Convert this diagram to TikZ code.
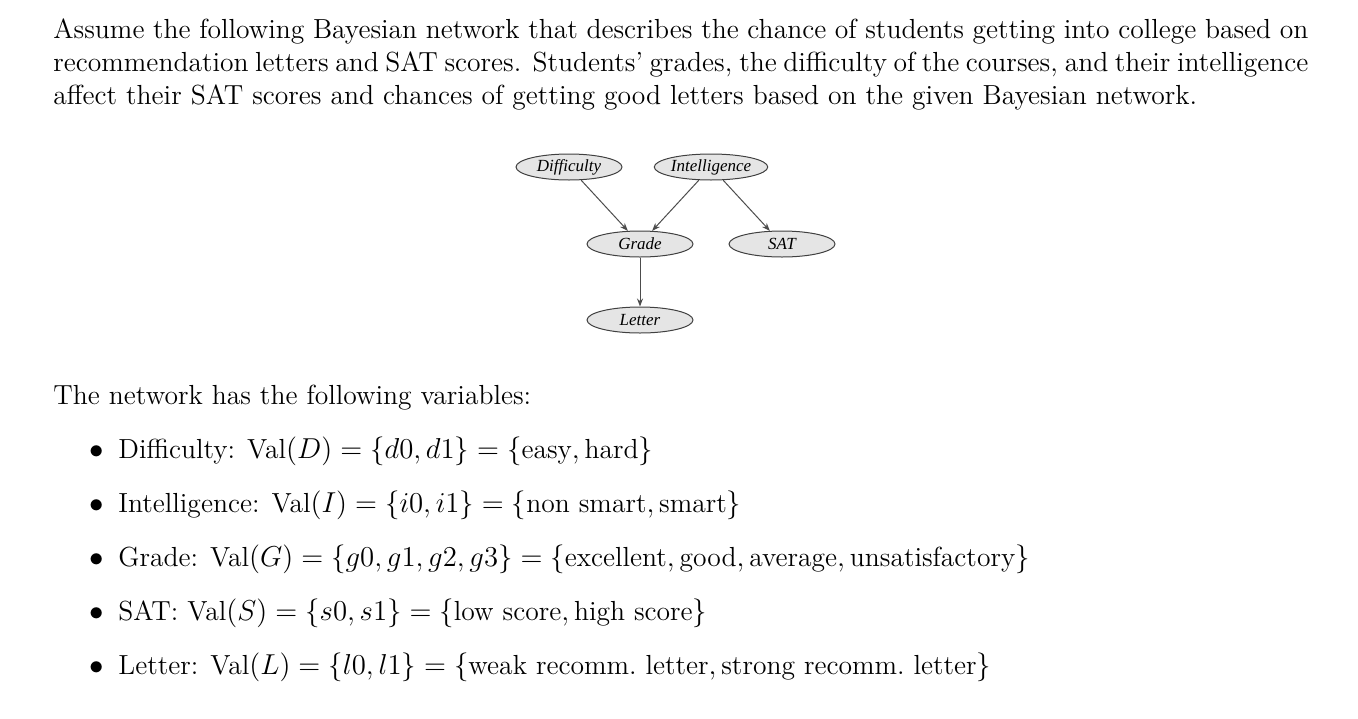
\documentclass[tikz,border=0pt]{standalone}
\usepackage{fontspec}
\newfontfamily\tms{Liberation Serif}
\usetikzlibrary{shapes.geometric,arrows.meta}
\begin{document}
\begin{tikzpicture}[x=0.5pt,y=-0.5pt,
  bn/.style={ellipse,draw=black!75,fill=black!10,line width=0.5pt,minimum width=53pt,minimum height=13pt,inner sep=0pt,font=\tms\itshape\fontsize{8.5}{10}\selectfont},
  ar/.style={-{Stealth[length=4pt,width=3pt]},draw=black!70,line width=0.5pt},
  txt/.style={anchor=base west,inner sep=0pt,font=\fontsize{13.8}{16.5}\selectfont}]
\useasboundingbox (0,0) rectangle (1358,718);
\node[txt] (p1) at (53,38) {\makebox[627.5pt][s]{Assume the following Bayesian network that describes the chance of students getting into college based on}};
\node[txt] (p2) at (53,71) {\makebox[627.5pt][s]{recommendation letters and SAT scores. Students' grades, the difficulty of the courses, and their intelligence}};
\node[txt] (p3) at (53,104) {affect their SAT scores and chances of getting good letters based on the given Bayesian network.};
\node[bn] (D) at (569,167) {Difficulty};
\node[bn] (I) at (711,167) {Intelligence};
\node[bn] (G) at (640,244) {Grade};
\node[bn] (S) at (782,244) {SAT};
\node[bn] (L) at (640,320) {Letter};
\draw[ar] (D) -- (G);
\draw[ar] (I) -- (G);
\draw[ar] (I) -- (S);
\draw[ar] (G) -- (L);
\node[txt] (t) at (53,404) {The network has the following variables:};
\foreach \y/\n/\s in {458/b1/{Difficulty: Val$(D)=\{d0,d1\}=\{\mbox{easy},\mbox{hard}\}$},
  512/b2/{Intelligence: Val$(I)=\{i0,i1\}=\{\mbox{non smart},\mbox{smart}\}$},
  566/b3/{Grade: Val$(G)=\{g0,g1,g2,g3\}=\{\mbox{excellent},\mbox{good},\mbox{average},\mbox{unsatisfactory}\}$},
  620/b4/{SAT: Val$(S)=\{s0,s1\}=\{\mbox{low score},\mbox{high score}\}$},
  674/b5/{Letter: Val$(L)=\{l0,l1\}=\{\mbox{weak recomm.\ letter},\mbox{strong recomm.\ letter}\}$}}{
  \node[txt] (\n) at (118,\y) {\s};
  \node[txt] (\n m) at (89,\y) {$\bullet$};
}
\end{tikzpicture}
\end{document}
